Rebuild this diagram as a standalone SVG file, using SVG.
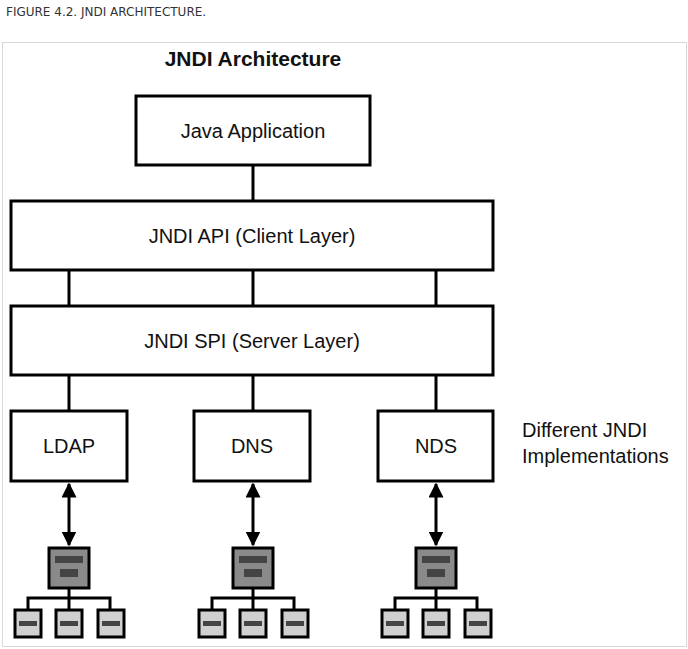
<svg xmlns="http://www.w3.org/2000/svg" width="688" height="649" viewBox="0 0 688 649">
<defs>
<style>
.box{fill:#fff;stroke:#000;stroke-width:3}
.t{font-family:"Liberation Sans",Arial,sans-serif;font-size:20px;text-anchor:middle;fill:#111}
.s{text-anchor:start}
.ln{stroke:#000;stroke-width:3;fill:none}
.srv{fill:#8a8a8a;stroke:#000;stroke-width:3}
.bar{fill:#444}
.cl{fill:#d0d0d0;stroke:#000;stroke-width:3}
</style>
<marker id="ah" viewBox="0 0 10 10" refX="9" refY="5" markerWidth="5" markerHeight="5" orient="auto-start-reverse"><path d="M0,0L10,5L0,10z" fill="#000"/></marker>
<g id="server">
<rect class="srv" x="-20" y="0" width="40" height="40"/>
<rect class="bar" x="-14" y="8" width="28" height="7"/>
<rect class="bar" x="-9" y="21" width="18" height="8"/>
<path class="ln" d="M0,40V50M-41,62V50H41V62M0,50V62"/>
<rect class="cl" x="-54" y="62" width="26" height="27"/>
<rect class="cl" x="-13" y="62" width="26" height="27"/>
<rect class="cl" x="29" y="62" width="26" height="27"/>
<rect class="bar" x="-50" y="73" width="18" height="5"/>
<rect class="bar" x="-9" y="73" width="18" height="5"/>
<rect class="bar" x="33" y="73" width="18" height="5"/>
</g>
</defs>
<rect width="688" height="649" fill="#fff"/>
<text x="6" y="16" font-family="'DejaVu Sans',sans-serif" font-size="12" fill="#333">FIGURE 4.2. JNDI ARCHITECTURE.</text>
<rect x="2.5" y="42.5" width="684" height="604" fill="none" stroke="#d8d8d8"/>
<text x="253" y="66" class="t" style="font-weight:bold;font-size:21px">JNDI Architecture</text>
<g id="connectors">
<path class="ln" d="M253,165V201M69,270V306M253,270V306M436,270V306M69,375V411M253,375V411M436,375V411"/>
<path class="ln" d="M69,484V545" marker-start="url(#ah)" marker-end="url(#ah)"/>
<path class="ln" d="M253,484V545" marker-start="url(#ah)" marker-end="url(#ah)"/>
<path class="ln" d="M436,484V545" marker-start="url(#ah)" marker-end="url(#ah)"/>
</g>
<g id="java"><rect class="box" x="136" y="96" width="234" height="69"/><text class="t" x="253" y="138">Java Application</text></g>
<g id="api"><rect class="box" x="11" y="201" width="482" height="69"/><text class="t" x="252" y="243">JNDI API (Client Layer)</text></g>
<g id="spi"><rect class="box" x="11" y="306" width="482" height="69"/><text class="t" x="252" y="348">JNDI SPI (Server Layer)</text></g>
<g id="ldap"><rect class="box" x="11" y="411" width="116" height="70"/><text class="t" x="69" y="453">LDAP</text></g>
<g id="dns"><rect class="box" x="194" y="411" width="116" height="70"/><text class="t" x="252" y="453">DNS</text></g>
<g id="nds"><rect class="box" x="378" y="411" width="115" height="70"/><text class="t" x="436" y="453">NDS</text></g>
<g id="label"><text class="t s" x="522" y="437">Different JNDI</text><text class="t s" x="522" y="463">Implementations</text></g>
<g id="servers">
<use href="#server" x="69" y="548"/>
<use href="#server" x="253" y="548"/>
<use href="#server" x="436" y="548"/>
</g>
</svg>
